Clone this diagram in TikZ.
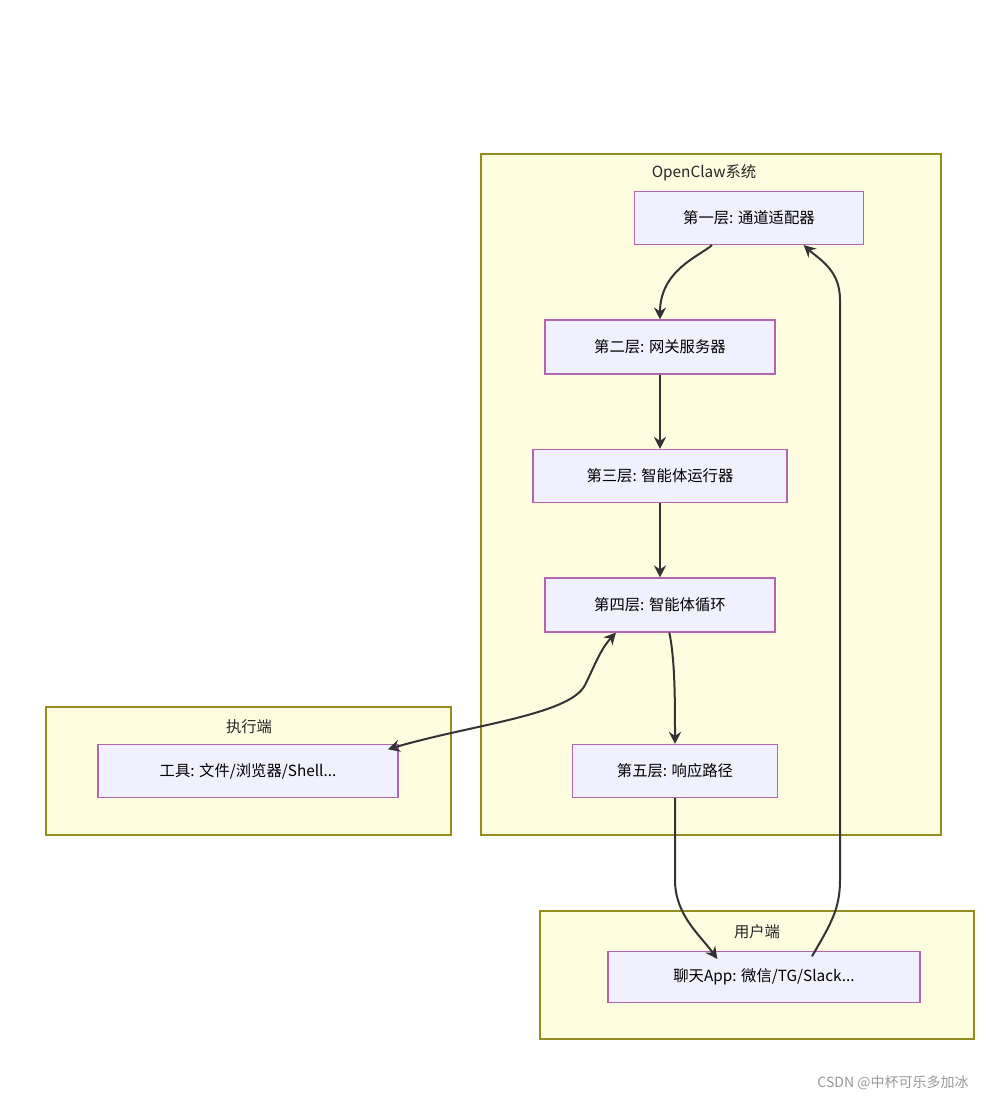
\documentclass[tikz,border=0pt]{standalone}
\usepackage{fontspec}
\setmainfont{Noto Sans CJK SC}
\usetikzlibrary{arrows.meta}
\begin{document}
\begin{tikzpicture}[x=0.75pt,y=-0.75pt,
  cl/.style={draw=olive!70!yellow!80!black,fill=yellow!12,line width=0.8pt},
  nd/.style={draw=violet!60,fill=blue!6,line width=0.8pt,font=\fontsize{11.5pt}{13pt}\selectfont,inner sep=0pt},
  ttl/.style={font=\fontsize{11.5pt}{13pt}\selectfont,text=black!85},
  ar/.style={draw=black!80,line width=1.5pt,-{Stealth[length=9pt,width=9pt]}},
  ar2/.style={draw=black!80,line width=1.5pt,{Stealth[length=9pt,width=9pt]}-{Stealth[length=9pt,width=9pt]}}]
\useasboundingbox (0,0) rectangle (1003,1101);
\fill[white] (0,0) rectangle (1003,1101);
\draw[cl] (481,154) rectangle (941,835);
\draw[cl] (46,707) rectangle (451,835);
\draw[cl] (540,911) rectangle (974,1039);
\node[ttl] (t1) at (704,173) {OpenClaw系统};
\node[ttl] (t2) at (249,727) {执行端};
\node[ttl] (t3) at (757,932) {用户端};
\node[nd,minimum width=229pt*0.75,minimum height=53pt*0.75] (L1) at (749,218) {第一层: 通道适配器};
\node[nd,minimum width=230pt*0.75,minimum height=54pt*0.75] (L2) at (660,347) {第二层: 网关服务器};
\node[nd,minimum width=254pt*0.75,minimum height=53pt*0.75] (L3) at (660,476) {第三层: 智能体运行器};
\node[nd,minimum width=230pt*0.75,minimum height=54pt*0.75] (L4) at (660,605) {第四层: 智能体循环};
\node[nd,minimum width=205pt*0.75,minimum height=53pt*0.75] (L5) at (675,771) {第五层: 响应路径};
\node[nd,minimum width=300pt*0.75,minimum height=53pt*0.75] (T) at (248,771) {工具: 文件/浏览器/Shell...};
\node[nd,minimum width=312pt*0.75,minimum height=51pt*0.75] (C) at (764,977) {聊天App: 微信/TG/Slack...};
\node[font=\fontsize{10.5pt}{12pt}\selectfont,text=black!40] (wm) at (893,1083) {CSDN @中杯可乐多加冰};
\draw[ar] (L1.south) ++(-37,0) .. controls (700,256) and (660,270) .. (L2.north);
\draw[ar] (L2) -- (L3);
\draw[ar] (L3) -- (L4);
\draw[ar2] ([xshift=-33]L4.south) .. controls (600,650) and (595,665) .. (585,685) .. controls (570,715) and (470,725) .. ([xshift=-8,yshift=-4]T.north east);
\draw[ar] ([xshift=7]L4.south) .. controls (675,660) and (675,700) .. (L5.north);
\draw[ar] (L5.south) -- (675,880) .. controls (675,915) and (700,935) .. ([xshift=-35,yshift=-6]C.north);
\draw[ar] ([xshift=36,yshift=-4]C.north) .. controls (830,925) and (840,910) .. (840,880) -- (840,300) .. controls (840,270) and (820,260) .. ([xshift=41]L1.south);
\end{tikzpicture}
\end{document}
